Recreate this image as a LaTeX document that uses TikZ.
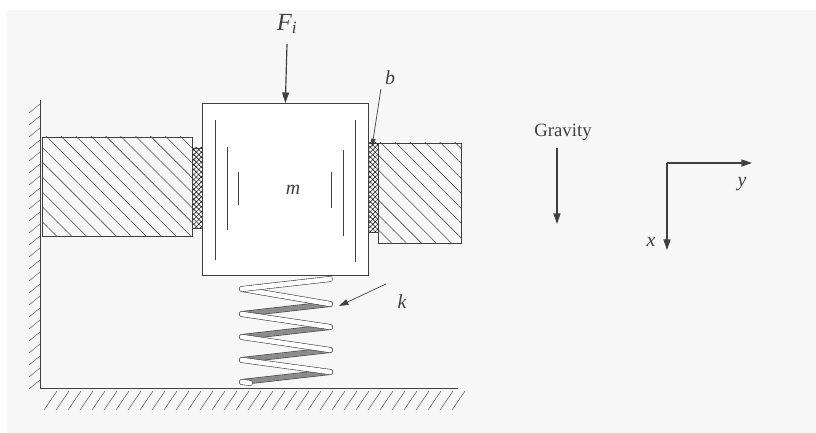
\documentclass[tikz,border=0pt]{standalone}
\usepackage{fontspec}
\setmainfont{Liberation Serif}
\usetikzlibrary{patterns.meta,arrows.meta}
\begin{document}
\begin{tikzpicture}[x=0.03cm,y=-0.03cm,
  ln/.style={draw=black!75,line width=0.6pt},
  hatchblk/.style={ln,pattern={Lines[angle=-45,distance=9pt,line width=0.5pt]},pattern color=black!70},
  dampblk/.style={ln,pattern={Lines[angle=45,distance=3pt,line width=0.4pt]}},
  arr/.style={draw=black!75,line width=1pt,-{Triangle[length=9pt,width=6pt]}},
  strand/.style={draw=black!75,line width=0.5pt,double=white,double distance=4pt,line cap=round},
  lbl/.style={font=\itshape\fontsize{17}{19}\selectfont,text=black!75}]
\useasboundingbox (0,0) rectangle (816,433);
\fill[black!3] (7,10) rectangle (816,433);
% wall and floor
\coordinate (wt) at (40,100); \coordinate (wb) at (40,388); \coordinate (fr) at (458,388);
\draw[ln] (wt) -- (wb) -- (fr);
\foreach \y in {104,116,...,380} \draw[draw=black!60,line width=0.5pt] (29,\y+9) -- (40,\y);
\foreach \x in {44,56,...,452} \draw[draw=black!60,line width=0.5pt] (\x,410) -- (\x+13,391);
% blocks
\draw[hatchblk] (42,137) rectangle (192,236);
\draw[dampblk] (192,148) rectangle (202,228);
\draw[dampblk,pattern={Lines[angle=-45,distance=3pt,line width=0.4pt]}] (192,148) rectangle (202,228);
\draw[hatchblk] (378,143) rectangle (461,243);
\draw[dampblk] (368,143) rectangle (378,232);
\draw[dampblk,pattern={Lines[angle=-45,distance=3pt,line width=0.4pt]}] (368,143) rectangle (378,232);
% mass
\node[ln,fill=white,minimum width=166*0.03cm,minimum height=172*0.03cm,inner sep=0,anchor=north west] (mass) at (202,103) {};
\node[lbl] (m) at (293,190) {m};
\foreach \x/\a/\b in {215/120/260,227/147/230,238/172/205,355/120/262,343/150/236,331/172/208}
  \draw[ln] (\x,\a) -- (\x,\b);
% force
\node[lbl,font=\itshape\fontsize{21}{23}\selectfont] (Fi) at (287,24) {F\textsubscript{i}};
\draw[arr] (Fi.south) ++(0,6) coordinate (fs) -- (mass.north);
% b label
\node[lbl] (b) at (390,78) {b};
\coordinate (bt) at (372,147);
\draw[arr,line width=0.6pt,-{Triangle[length=7pt,width=4pt]}] (b.south west) -- (bt);
% spring: back strands (right to left, shaded) then front strands
\foreach \yr/\yl in {304/314,327/337,350/360,372/382}
  \draw[strand,double=black!45] (330,\yr) -- (242,\yl);
\foreach \yl/\yr in {289/304,314/327,337/350,360/372}
  \draw[strand] (242,\yl) -- (330,\yr);
\draw[strand] (330,279) -- (242,289);
\draw[strand] (242,382) -- (250,383);
\node[lbl] (k) at (402,302) {k};
\coordinate (kt) at (339,306);
\draw[arr,line width=0.6pt,-{Triangle[length=8pt,width=5pt]}] (386,284) -- (kt);
% gravity
\node[font=\fontsize{16}{18}\selectfont,text=black!75] (g) at (563,132) {Gravity};
\coordinate (gt) at (557,148); \coordinate (gb) at (557,224);
\draw[arr] (gt) -- (gb);
% axes
\coordinate (o) at (667,163); \coordinate (ye) at (752,163); \coordinate (xe) at (667,250);
\draw[arr] (o) -- (ye);
\draw[arr] (o) -- (xe);
\node[lbl] (y) at (742,184) {y};
\node[lbl] (x) at (651,242) {x};
\end{tikzpicture}
\end{document}
